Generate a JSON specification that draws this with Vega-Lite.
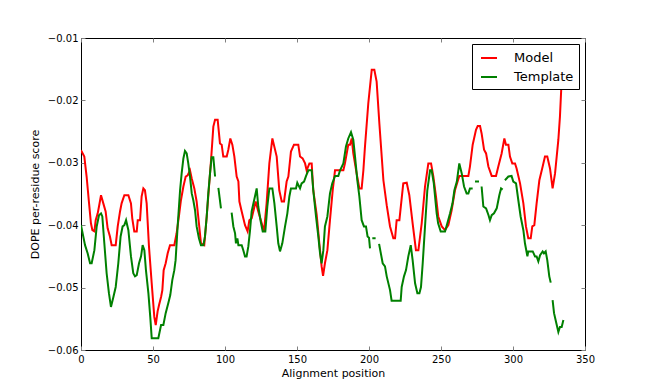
{
  "$schema": "https://vega.github.io/schema/vega-lite/v6.json",
  "width": 504,
  "height": 312,
  "autosize": {"type": "none"},
  "padding": {"left": 81, "top": 38, "right": 65, "bottom": 40},
  "background": "white",
  "config": {
    "font": "DejaVu Sans",
    "view": {"stroke": "black", "strokeWidth": 1},
    "axis": {"grid": false, "domain": false, "tickColor": "#808080", "tickSize": -4, "labelFlush": false, "labelOverlap": false, "labelFontSize": 10, "labelColor": "black", "titleFontSize": 11, "titleFontWeight": "normal", "titleColor": "black"}
  },
  "datasets": {
    "frame": [{"pos": 0, "score": -0.06}]
  },
  "layer": [
    {
      "data": {"values": [
        {"series": "Model", "pos": 0, "score": -0.0280},
        {"series": "Model", "pos": 2.3, "score": -0.0290},
        {"series": "Model", "pos": 3.9, "score": -0.0322},
        {"series": "Model", "pos": 5.6, "score": -0.0365},
        {"series": "Model", "pos": 6.9, "score": -0.0397},
        {"series": "Model", "pos": 7.9, "score": -0.0408},
        {"series": "Model", "pos": 9.3, "score": -0.0410},
        {"series": "Model", "pos": 10.2, "score": -0.0392},
        {"series": "Model", "pos": 11.6, "score": -0.0381},
        {"series": "Model", "pos": 12.5, "score": -0.0370},
        {"series": "Model", "pos": 13.9, "score": -0.0352},
        {"series": "Model", "pos": 15.5, "score": -0.0365},
        {"series": "Model", "pos": 17.1, "score": -0.0378},
        {"series": "Model", "pos": 18.5, "score": -0.0405},
        {"series": "Model", "pos": 20.1, "score": -0.0418},
        {"series": "Model", "pos": 21.3, "score": -0.0432},
        {"series": "Model", "pos": 24.1, "score": -0.0432},
        {"series": "Model", "pos": 25.5, "score": -0.0402},
        {"series": "Model", "pos": 27.1, "score": -0.0378},
        {"series": "Model", "pos": 28.2, "score": -0.0365},
        {"series": "Model", "pos": 30.1, "score": -0.0352},
        {"series": "Model", "pos": 32.9, "score": -0.0352},
        {"series": "Model", "pos": 34.7, "score": -0.0365},
        {"series": "Model", "pos": 35.6, "score": -0.0389},
        {"series": "Model", "pos": 37.0, "score": -0.0410},
        {"series": "Model", "pos": 38.7, "score": -0.0410},
        {"series": "Model", "pos": 39.4, "score": -0.0392},
        {"series": "Model", "pos": 41.0, "score": -0.0392},
        {"series": "Model", "pos": 42.1, "score": -0.0354},
        {"series": "Model", "pos": 43.3, "score": -0.0341},
        {"series": "Model", "pos": 44.4, "score": -0.0344},
        {"series": "Model", "pos": 45.6, "score": -0.0365},
        {"series": "Model", "pos": 47.2, "score": -0.0434},
        {"series": "Model", "pos": 49.1, "score": -0.0493},
        {"series": "Model", "pos": 50.9, "score": -0.0547},
        {"series": "Model", "pos": 51.9, "score": -0.0560},
        {"series": "Model", "pos": 53.2, "score": -0.0538},
        {"series": "Model", "pos": 54.2, "score": -0.0528},
        {"series": "Model", "pos": 55.6, "score": -0.0515},
        {"series": "Model", "pos": 56.5, "score": -0.0504},
        {"series": "Model", "pos": 57.4, "score": -0.0472},
        {"series": "Model", "pos": 58.8, "score": -0.0461},
        {"series": "Model", "pos": 60.2, "score": -0.0445},
        {"series": "Model", "pos": 61.8, "score": -0.0432},
        {"series": "Model", "pos": 64.8, "score": -0.0432},
        {"series": "Model", "pos": 66.4, "score": -0.0413},
        {"series": "Model", "pos": 68.1, "score": -0.0384},
        {"series": "Model", "pos": 69.4, "score": -0.0360},
        {"series": "Model", "pos": 71.1, "score": -0.0338},
        {"series": "Model", "pos": 72.7, "score": -0.0322},
        {"series": "Model", "pos": 74.1, "score": -0.0320},
        {"series": "Model", "pos": 75.7, "score": -0.0312},
        {"series": "Model", "pos": 76.9, "score": -0.0325},
        {"series": "Model", "pos": 78.7, "score": -0.0341},
        {"series": "Model", "pos": 80.3, "score": -0.0362},
        {"series": "Model", "pos": 81.9, "score": -0.0397},
        {"series": "Model", "pos": 83.3, "score": -0.0429},
        {"series": "Model", "pos": 85.6, "score": -0.0432},
        {"series": "Model", "pos": 87.3, "score": -0.0386},
        {"series": "Model", "pos": 88.9, "score": -0.0338},
        {"series": "Model", "pos": 90.3, "score": -0.0296},
        {"series": "Model", "pos": 91.9, "score": -0.0242},
        {"series": "Model", "pos": 93.1, "score": -0.0231},
        {"series": "Model", "pos": 94.9, "score": -0.0231},
        {"series": "Model", "pos": 96.5, "score": -0.0269},
        {"series": "Model", "pos": 97.7, "score": -0.0271},
        {"series": "Model", "pos": 98.8, "score": -0.0290},
        {"series": "Model", "pos": 101.2, "score": -0.0290},
        {"series": "Model", "pos": 102.3, "score": -0.0279},
        {"series": "Model", "pos": 103.7, "score": -0.0261},
        {"series": "Model", "pos": 105.1, "score": -0.0271},
        {"series": "Model", "pos": 106.5, "score": -0.0290},
        {"series": "Model", "pos": 108.1, "score": -0.0322},
        {"series": "Model", "pos": 109.3, "score": -0.0330},
        {"series": "Model", "pos": 110.0, "score": -0.0362},
        {"series": "Model", "pos": 111.6, "score": -0.0378},
        {"series": "Model", "pos": 113.9, "score": -0.0400},
        {"series": "Model", "pos": 115.7, "score": -0.0410},
        {"series": "Model", "pos": 116.9, "score": -0.0392},
        {"series": "Model", "pos": 118.5, "score": -0.0389},
        {"series": "Model", "pos": 121.3, "score": -0.0362},
        {"series": "Model", "pos": 123.1, "score": -0.0378},
        {"series": "Model", "pos": 125.5, "score": -0.0397},
        {"series": "Model", "pos": 127.1, "score": -0.0410},
        {"series": "Model", "pos": 128.9, "score": -0.0365},
        {"series": "Model", "pos": 130.8, "score": -0.0301},
        {"series": "Model", "pos": 132.9, "score": -0.0261},
        {"series": "Model", "pos": 135.9, "score": -0.0290},
        {"series": "Model", "pos": 137.7, "score": -0.0344},
        {"series": "Model", "pos": 139.4, "score": -0.0362},
        {"series": "Model", "pos": 141.0, "score": -0.0362},
        {"series": "Model", "pos": 142.8, "score": -0.0330},
        {"series": "Model", "pos": 144.0, "score": -0.0322},
        {"series": "Model", "pos": 145.8, "score": -0.0282},
        {"series": "Model", "pos": 147.9, "score": -0.0271},
        {"series": "Model", "pos": 150.9, "score": -0.0271},
        {"series": "Model", "pos": 152.1, "score": -0.0290},
        {"series": "Model", "pos": 153.9, "score": -0.0293},
        {"series": "Model", "pos": 155.6, "score": -0.0301},
        {"series": "Model", "pos": 156.7, "score": -0.0312},
        {"series": "Model", "pos": 158.6, "score": -0.0301},
        {"series": "Model", "pos": 160.2, "score": -0.0301},
        {"series": "Model", "pos": 161.3, "score": -0.0344},
        {"series": "Model", "pos": 163.7, "score": -0.0384},
        {"series": "Model", "pos": 165.5, "score": -0.0429},
        {"series": "Model", "pos": 167.1, "score": -0.0466},
        {"series": "Model", "pos": 168.1, "score": -0.0481},
        {"series": "Model", "pos": 169.4, "score": -0.0461},
        {"series": "Model", "pos": 171.1, "score": -0.0440},
        {"series": "Model", "pos": 172.9, "score": -0.0392},
        {"series": "Model", "pos": 174.8, "score": -0.0344},
        {"series": "Model", "pos": 176.4, "score": -0.0312},
        {"series": "Model", "pos": 182.2, "score": -0.0312},
        {"series": "Model", "pos": 183.3, "score": -0.0301},
        {"series": "Model", "pos": 185.6, "score": -0.0271},
        {"series": "Model", "pos": 186.8, "score": -0.0271},
        {"series": "Model", "pos": 188.0, "score": -0.0261},
        {"series": "Model", "pos": 189.1, "score": -0.0285},
        {"series": "Model", "pos": 191.4, "score": -0.0317},
        {"series": "Model", "pos": 193.3, "score": -0.0341},
        {"series": "Model", "pos": 194.9, "score": -0.0341},
        {"series": "Model", "pos": 196.1, "score": -0.0312},
        {"series": "Model", "pos": 197.2, "score": -0.0274},
        {"series": "Model", "pos": 199.5, "score": -0.0205},
        {"series": "Model", "pos": 201.9, "score": -0.0151},
        {"series": "Model", "pos": 203.7, "score": -0.0151},
        {"series": "Model", "pos": 205.3, "score": -0.0170},
        {"series": "Model", "pos": 207.2, "score": -0.0237},
        {"series": "Model", "pos": 210.0, "score": -0.0328},
        {"series": "Model", "pos": 212.3, "score": -0.0368},
        {"series": "Model", "pos": 214.6, "score": -0.0402},
        {"series": "Model", "pos": 216.9, "score": -0.0421},
        {"series": "Model", "pos": 218.1, "score": -0.0421},
        {"series": "Model", "pos": 219.2, "score": -0.0392},
        {"series": "Model", "pos": 221.1, "score": -0.0392},
        {"series": "Model", "pos": 223.8, "score": -0.0333},
        {"series": "Model", "pos": 226.2, "score": -0.0332},
        {"series": "Model", "pos": 228.0, "score": -0.0352},
        {"series": "Model", "pos": 230.3, "score": -0.0397},
        {"series": "Model", "pos": 232.6, "score": -0.0440},
        {"series": "Model", "pos": 234.3, "score": -0.0440},
        {"series": "Model", "pos": 236.6, "score": -0.0397},
        {"series": "Model", "pos": 238.9, "score": -0.0338},
        {"series": "Model", "pos": 241.2, "score": -0.0301},
        {"series": "Model", "pos": 243.1, "score": -0.0301},
        {"series": "Model", "pos": 244.7, "score": -0.0322},
        {"series": "Model", "pos": 246.5, "score": -0.0354},
        {"series": "Model", "pos": 248.1, "score": -0.0386},
        {"series": "Model", "pos": 250.5, "score": -0.0402},
        {"series": "Model", "pos": 252.8, "score": -0.0408},
        {"series": "Model", "pos": 255.1, "score": -0.0400},
        {"series": "Model", "pos": 257.4, "score": -0.0376},
        {"series": "Model", "pos": 259.7, "score": -0.0344},
        {"series": "Model", "pos": 262.7, "score": -0.0321},
        {"series": "Model", "pos": 269.0, "score": -0.0321},
        {"series": "Model", "pos": 270.1, "score": -0.0306},
        {"series": "Model", "pos": 272.0, "score": -0.0271},
        {"series": "Model", "pos": 274.3, "score": -0.0247},
        {"series": "Model", "pos": 275.5, "score": -0.0241},
        {"series": "Model", "pos": 277.1, "score": -0.0241},
        {"series": "Model", "pos": 278.2, "score": -0.0253},
        {"series": "Model", "pos": 279.9, "score": -0.0279},
        {"series": "Model", "pos": 281.3, "score": -0.0285},
        {"series": "Model", "pos": 282.9, "score": -0.0306},
        {"series": "Model", "pos": 285.2, "score": -0.0321},
        {"series": "Model", "pos": 288.2, "score": -0.0321},
        {"series": "Model", "pos": 289.8, "score": -0.0306},
        {"series": "Model", "pos": 292.1, "score": -0.0285},
        {"series": "Model", "pos": 294.0, "score": -0.0261},
        {"series": "Model", "pos": 295.1, "score": -0.0271},
        {"series": "Model", "pos": 296.8, "score": -0.0271},
        {"series": "Model", "pos": 297.9, "score": -0.0290},
        {"series": "Model", "pos": 299.5, "score": -0.0301},
        {"series": "Model", "pos": 301.4, "score": -0.0301},
        {"series": "Model", "pos": 302.5, "score": -0.0309},
        {"series": "Model", "pos": 304.9, "score": -0.0333},
        {"series": "Model", "pos": 307.2, "score": -0.0365},
        {"series": "Model", "pos": 309.0, "score": -0.0402},
        {"series": "Model", "pos": 310.6, "score": -0.0421},
        {"series": "Model", "pos": 312.3, "score": -0.0421},
        {"series": "Model", "pos": 313.4, "score": -0.0402},
        {"series": "Model", "pos": 314.8, "score": -0.0400},
        {"series": "Model", "pos": 316.4, "score": -0.0365},
        {"series": "Model", "pos": 318.3, "score": -0.0328},
        {"series": "Model", "pos": 320.6, "score": -0.0306},
        {"series": "Model", "pos": 322.2, "score": -0.0290},
        {"series": "Model", "pos": 323.8, "score": -0.0290},
        {"series": "Model", "pos": 325.7, "score": -0.0309},
        {"series": "Model", "pos": 327.5, "score": -0.0341},
        {"series": "Model", "pos": 329.2, "score": -0.0317},
        {"series": "Model", "pos": 331.5, "score": -0.0263},
        {"series": "Model", "pos": 332.6, "score": -0.0226},
        {"series": "Model", "pos": 333.8, "score": -0.0167},
        {"series": "Model", "pos": 335.0, "score": -0.0119},
        {"series": "Model", "pos": 336.1, "score": -0.0111},

        {"series": "Template", "pos": 0, "score": -0.0400},
        {"series": "Template", "pos": 2.8, "score": -0.0432},
        {"series": "Template", "pos": 4.6, "score": -0.0445},
        {"series": "Template", "pos": 6.3, "score": -0.0461},
        {"series": "Template", "pos": 7.4, "score": -0.0461},
        {"series": "Template", "pos": 9.3, "score": -0.0440},
        {"series": "Template", "pos": 10.9, "score": -0.0402},
        {"series": "Template", "pos": 12.5, "score": -0.0384},
        {"series": "Template", "pos": 13.9, "score": -0.0381},
        {"series": "Template", "pos": 14.8, "score": -0.0386},
        {"series": "Template", "pos": 16.2, "score": -0.0429},
        {"series": "Template", "pos": 17.8, "score": -0.0477},
        {"series": "Template", "pos": 19.4, "score": -0.0509},
        {"series": "Template", "pos": 20.8, "score": -0.0531},
        {"series": "Template", "pos": 22.5, "score": -0.0515},
        {"series": "Template", "pos": 24.1, "score": -0.0499},
        {"series": "Template", "pos": 25.9, "score": -0.0461},
        {"series": "Template", "pos": 27.5, "score": -0.0418},
        {"series": "Template", "pos": 28.9, "score": -0.0402},
        {"series": "Template", "pos": 30.1, "score": -0.0400},
        {"series": "Template", "pos": 31.3, "score": -0.0392},
        {"series": "Template", "pos": 32.9, "score": -0.0408},
        {"series": "Template", "pos": 34.7, "score": -0.0450},
        {"series": "Template", "pos": 36.3, "score": -0.0477},
        {"series": "Template", "pos": 37.5, "score": -0.0482},
        {"series": "Template", "pos": 38.7, "score": -0.0480},
        {"series": "Template", "pos": 40.3, "score": -0.0461},
        {"series": "Template", "pos": 41.7, "score": -0.0450},
        {"series": "Template", "pos": 42.8, "score": -0.0432},
        {"series": "Template", "pos": 44.0, "score": -0.0440},
        {"series": "Template", "pos": 45.1, "score": -0.0472},
        {"series": "Template", "pos": 46.8, "score": -0.0509},
        {"series": "Template", "pos": 48.1, "score": -0.0547},
        {"series": "Template", "pos": 49.1, "score": -0.0581},
        {"series": "Template", "pos": 53.7, "score": -0.0581},
        {"series": "Template", "pos": 55.6, "score": -0.0560},
        {"series": "Template", "pos": 57.2, "score": -0.0560},
        {"series": "Template", "pos": 58.8, "score": -0.0541},
        {"series": "Template", "pos": 60.6, "score": -0.0525},
        {"series": "Template", "pos": 62.0, "score": -0.0512},
        {"series": "Template", "pos": 63.4, "score": -0.0488},
        {"series": "Template", "pos": 64.8, "score": -0.0472},
        {"series": "Template", "pos": 65.7, "score": -0.0456},
        {"series": "Template", "pos": 67.1, "score": -0.0402},
        {"series": "Template", "pos": 68.8, "score": -0.0344},
        {"series": "Template", "pos": 69.9, "score": -0.0317},
        {"series": "Template", "pos": 71.1, "score": -0.0293},
        {"series": "Template", "pos": 72.2, "score": -0.0281},
        {"series": "Template", "pos": 73.4, "score": -0.0285},
        {"series": "Template", "pos": 74.5, "score": -0.0301},
        {"series": "Template", "pos": 75.7, "score": -0.0322},
        {"series": "Template", "pos": 76.9, "score": -0.0349},
        {"series": "Template", "pos": 78.0, "score": -0.0360},
        {"series": "Template", "pos": 79.2, "score": -0.0376},
        {"series": "Template", "pos": 80.3, "score": -0.0402},
        {"series": "Template", "pos": 81.9, "score": -0.0421},
        {"series": "Template", "pos": 83.3, "score": -0.0432},
        {"series": "Template", "pos": 85.0, "score": -0.0432},
        {"series": "Template", "pos": 86.1, "score": -0.0418},
        {"series": "Template", "pos": 87.3, "score": -0.0386},
        {"series": "Template", "pos": 88.4, "score": -0.0349},
        {"series": "Template", "pos": 89.6, "score": -0.0317},
        {"series": "Template", "pos": 90.7, "score": -0.0291},
        {"series": "Template", "pos": 91.9, "score": -0.0291},
        {"series": "Template", "pos": 93.1, "score": -0.0322},
        {"series": "Template", "pos": 94.2, "score": null},
        {"series": "Template", "pos": 95.4, "score": -0.0340},
        {"series": "Template", "pos": 97.2, "score": -0.0373},
        {"series": "Template", "pos": 100.0, "score": null},
        {"series": "Template", "pos": 104.6, "score": -0.0380},
        {"series": "Template", "pos": 105.8, "score": -0.0402},
        {"series": "Template", "pos": 107.0, "score": -0.0413},
        {"series": "Template", "pos": 107.6, "score": -0.0429},
        {"series": "Template", "pos": 108.6, "score": -0.0421},
        {"series": "Template", "pos": 109.3, "score": -0.0432},
        {"series": "Template", "pos": 111.6, "score": -0.0432},
        {"series": "Template", "pos": 112.7, "score": -0.0440},
        {"series": "Template", "pos": 113.9, "score": -0.0450},
        {"series": "Template", "pos": 115.0, "score": -0.0450},
        {"series": "Template", "pos": 116.2, "score": -0.0434},
        {"series": "Template", "pos": 117.4, "score": -0.0408},
        {"series": "Template", "pos": 118.5, "score": -0.0378},
        {"series": "Template", "pos": 120.8, "score": -0.0354},
        {"series": "Template", "pos": 122.0, "score": -0.0341},
        {"series": "Template", "pos": 123.1, "score": -0.0370},
        {"series": "Template", "pos": 124.8, "score": -0.0394},
        {"series": "Template", "pos": 126.2, "score": -0.0410},
        {"series": "Template", "pos": 128.0, "score": -0.0410},
        {"series": "Template", "pos": 129.4, "score": -0.0370},
        {"series": "Template", "pos": 130.8, "score": -0.0341},
        {"series": "Template", "pos": 132.9, "score": -0.0341},
        {"series": "Template", "pos": 134.3, "score": -0.0365},
        {"series": "Template", "pos": 135.9, "score": -0.0402},
        {"series": "Template", "pos": 137.0, "score": -0.0429},
        {"series": "Template", "pos": 138.2, "score": -0.0442},
        {"series": "Template", "pos": 139.8, "score": -0.0429},
        {"series": "Template", "pos": 141.7, "score": -0.0402},
        {"series": "Template", "pos": 143.3, "score": -0.0381},
        {"series": "Template", "pos": 144.7, "score": -0.0354},
        {"series": "Template", "pos": 145.8, "score": -0.0341},
        {"series": "Template", "pos": 149.3, "score": -0.0341},
        {"series": "Template", "pos": 150.2, "score": -0.0332},
        {"series": "Template", "pos": 152.1, "score": -0.0341},
        {"series": "Template", "pos": 153.2, "score": -0.0333},
        {"series": "Template", "pos": 154.9, "score": -0.0330},
        {"series": "Template", "pos": 156.3, "score": -0.0321},
        {"series": "Template", "pos": 157.9, "score": -0.0312},
        {"series": "Template", "pos": 160.2, "score": -0.0312},
        {"series": "Template", "pos": 161.3, "score": -0.0344},
        {"series": "Template", "pos": 163.2, "score": -0.0386},
        {"series": "Template", "pos": 164.8, "score": -0.0418},
        {"series": "Template", "pos": 166.0, "score": -0.0445},
        {"series": "Template", "pos": 167.1, "score": -0.0461},
        {"series": "Template", "pos": 168.3, "score": -0.0440},
        {"series": "Template", "pos": 169.4, "score": -0.0402},
        {"series": "Template", "pos": 171.1, "score": -0.0386},
        {"series": "Template", "pos": 172.9, "score": -0.0349},
        {"series": "Template", "pos": 174.5, "score": -0.0333},
        {"series": "Template", "pos": 176.4, "score": -0.0321},
        {"series": "Template", "pos": 178.7, "score": -0.0321},
        {"series": "Template", "pos": 179.9, "score": -0.0312},
        {"series": "Template", "pos": 182.2, "score": -0.0301},
        {"series": "Template", "pos": 184.0, "score": -0.0274},
        {"series": "Template", "pos": 185.6, "score": -0.0261},
        {"series": "Template", "pos": 187.5, "score": -0.0251},
        {"series": "Template", "pos": 189.1, "score": -0.0263},
        {"series": "Template", "pos": 190.3, "score": -0.0290},
        {"series": "Template", "pos": 191.9, "score": -0.0328},
        {"series": "Template", "pos": 193.3, "score": -0.0354},
        {"series": "Template", "pos": 194.9, "score": -0.0392},
        {"series": "Template", "pos": 196.5, "score": -0.0402},
        {"series": "Template", "pos": 197.9, "score": -0.0402},
        {"series": "Template", "pos": 199.0, "score": -0.0418},
        {"series": "Template", "pos": 200.0, "score": -0.0420},
        {"series": "Template", "pos": 200.7, "score": -0.0437},
        {"series": "Template", "pos": 201.5, "score": null},
        {"series": "Template", "pos": 202.3, "score": -0.0421},
        {"series": "Template", "pos": 204.6, "score": -0.0421},
        {"series": "Template", "pos": 205.8, "score": null},
        {"series": "Template", "pos": 207.0, "score": -0.0430},
        {"series": "Template", "pos": 209.5, "score": -0.0461},
        {"series": "Template", "pos": 211.1, "score": -0.0466},
        {"series": "Template", "pos": 212.3, "score": -0.0482},
        {"series": "Template", "pos": 214.6, "score": -0.0504},
        {"series": "Template", "pos": 215.7, "score": -0.0521},
        {"series": "Template", "pos": 222.0, "score": -0.0521},
        {"series": "Template", "pos": 222.7, "score": -0.0499},
        {"series": "Template", "pos": 224.3, "score": -0.0482},
        {"series": "Template", "pos": 225.7, "score": -0.0472},
        {"series": "Template", "pos": 227.3, "score": -0.0450},
        {"series": "Template", "pos": 229.0, "score": -0.0432},
        {"series": "Template", "pos": 230.3, "score": -0.0456},
        {"series": "Template", "pos": 232.0, "score": -0.0493},
        {"series": "Template", "pos": 233.6, "score": -0.0509},
        {"series": "Template", "pos": 235.0, "score": -0.0509},
        {"series": "Template", "pos": 236.1, "score": -0.0499},
        {"series": "Template", "pos": 237.3, "score": -0.0461},
        {"series": "Template", "pos": 238.9, "score": -0.0402},
        {"series": "Template", "pos": 240.5, "score": -0.0344},
        {"series": "Template", "pos": 242.4, "score": -0.0312},
        {"series": "Template", "pos": 243.5, "score": -0.0312},
        {"series": "Template", "pos": 245.0, "score": -0.0333},
        {"series": "Template", "pos": 247.0, "score": -0.0381},
        {"series": "Template", "pos": 248.0, "score": -0.0397},
        {"series": "Template", "pos": 249.8, "score": -0.0410},
        {"series": "Template", "pos": 252.8, "score": -0.0410},
        {"series": "Template", "pos": 254.4, "score": -0.0397},
        {"series": "Template", "pos": 256.3, "score": -0.0381},
        {"series": "Template", "pos": 258.0, "score": -0.0365},
        {"series": "Template", "pos": 259.3, "score": -0.0344},
        {"series": "Template", "pos": 261.0, "score": -0.0330},
        {"series": "Template", "pos": 262.7, "score": -0.0301},
        {"series": "Template", "pos": 264.4, "score": -0.0317},
        {"series": "Template", "pos": 266.0, "score": -0.0338},
        {"series": "Template", "pos": 267.8, "score": -0.0349},
        {"series": "Template", "pos": 269.0, "score": -0.0349},
        {"series": "Template", "pos": 270.1, "score": -0.0341},
        {"series": "Template", "pos": 272.0, "score": -0.0341},
        {"series": "Template", "pos": 272.8, "score": null},
        {"series": "Template", "pos": 273.6, "score": -0.0330},
        {"series": "Template", "pos": 276.4, "score": -0.0330},
        {"series": "Template", "pos": 277.3, "score": null},
        {"series": "Template", "pos": 278.2, "score": -0.0338},
        {"series": "Template", "pos": 279.4, "score": -0.0370},
        {"series": "Template", "pos": 281.3, "score": -0.0373},
        {"series": "Template", "pos": 283.0, "score": -0.0384},
        {"series": "Template", "pos": 284.0, "score": -0.0392},
        {"series": "Template", "pos": 285.2, "score": -0.0384},
        {"series": "Template", "pos": 286.8, "score": -0.0381},
        {"series": "Template", "pos": 288.7, "score": -0.0373},
        {"series": "Template", "pos": 290.5, "score": -0.0352},
        {"series": "Template", "pos": 291.7, "score": -0.0341},
        {"series": "Template", "pos": 292.8, "score": -0.0343},
        {"series": "Template", "pos": 293.6, "score": null},
        {"series": "Template", "pos": 294.4, "score": -0.0328},
        {"series": "Template", "pos": 296.8, "score": -0.0322},
        {"series": "Template", "pos": 299.0, "score": -0.0321},
        {"series": "Template", "pos": 300.2, "score": -0.0330},
        {"series": "Template", "pos": 302.1, "score": -0.0333},
        {"series": "Template", "pos": 303.7, "score": -0.0360},
        {"series": "Template", "pos": 305.3, "score": -0.0386},
        {"series": "Template", "pos": 307.2, "score": -0.0408},
        {"series": "Template", "pos": 308.3, "score": -0.0429},
        {"series": "Template", "pos": 310.0, "score": -0.0450},
        {"series": "Template", "pos": 310.6, "score": -0.0442},
        {"series": "Template", "pos": 313.7, "score": -0.0442},
        {"series": "Template", "pos": 315.3, "score": -0.0450},
        {"series": "Template", "pos": 316.4, "score": -0.0450},
        {"series": "Template", "pos": 317.6, "score": -0.0458},
        {"series": "Template", "pos": 318.8, "score": -0.0448},
        {"series": "Template", "pos": 320.6, "score": -0.0442},
        {"series": "Template", "pos": 321.5, "score": -0.0445},
        {"series": "Template", "pos": 322.7, "score": -0.0442},
        {"series": "Template", "pos": 323.8, "score": -0.0456},
        {"series": "Template", "pos": 325.2, "score": -0.0482},
        {"series": "Template", "pos": 326.2, "score": -0.0492},
        {"series": "Template", "pos": 326.9, "score": null},
        {"series": "Template", "pos": 327.5, "score": -0.0520},
        {"series": "Template", "pos": 328.5, "score": -0.0541},
        {"series": "Template", "pos": 329.9, "score": -0.0555},
        {"series": "Template", "pos": 331.5, "score": -0.0571},
        {"series": "Template", "pos": 332.6, "score": -0.0563},
        {"series": "Template", "pos": 333.8, "score": -0.0563},
        {"series": "Template", "pos": 335.0, "score": -0.0552}
      ]},
      "mark": {"type": "line", "strokeWidth": 2, "invalid": "break-paths-show-domains", "clip": true},
      "encoding": {
        "x": {"field": "pos", "type": "quantitative", "scale": {"domain": [0, 350], "nice": false, "zero": false},
              "axis": {"orient": "bottom", "title": "Alignment position", "values": [0, 50, 100, 150, 200, 250, 300, 350], "format": "d", "labelPadding": 8, "titlePadding": 3}},
        "y": {"field": "score", "type": "quantitative", "scale": {"domain": [-0.06, -0.01], "nice": false, "zero": false},
              "axis": {"orient": "left", "title": "DOPE per-residue score", "values": [-0.06, -0.05, -0.04, -0.03, -0.02, -0.01], "format": ".2f", "labelPadding": 7, "titlePadding": 7}},
        "color": {"field": "series", "type": "nominal",
                  "scale": {"domain": ["Model", "Template"], "range": ["#ff0000", "#008000"]},
                  "legend": {"title": null, "orient": "top-right", "offset": 6, "strokeColor": "black", "fillColor": "white", "padding": 5, "cornerRadius": 0,
                             "symbolType": "stroke", "symbolSize": 256, "symbolOffset": 3, "symbolStrokeWidth": 2, "labelFontSize": 13, "labelColor": "black", "labelOffset": 16, "rowPadding": 3}}
      }
    },
    {
      "data": {"name": "frame"},
      "mark": {"type": "point", "opacity": 0},
      "encoding": {
        "x": {"field": "pos", "type": "quantitative", "scale": {"domain": [0, 350], "nice": false, "zero": false},
              "axis": {"orient": "top", "title": null, "labels": false, "values": [0, 50, 100, 150, 200, 250, 300, 350]}},
        "y": {"field": "score", "type": "quantitative", "scale": {"domain": [-0.06, -0.01], "nice": false, "zero": false},
              "axis": {"orient": "right", "title": null, "labels": false, "values": [-0.06, -0.05, -0.04, -0.03, -0.02, -0.01]}}
      }
    }
  ],
  "resolve": {"axis": {"x": "independent", "y": "independent"}}
}
